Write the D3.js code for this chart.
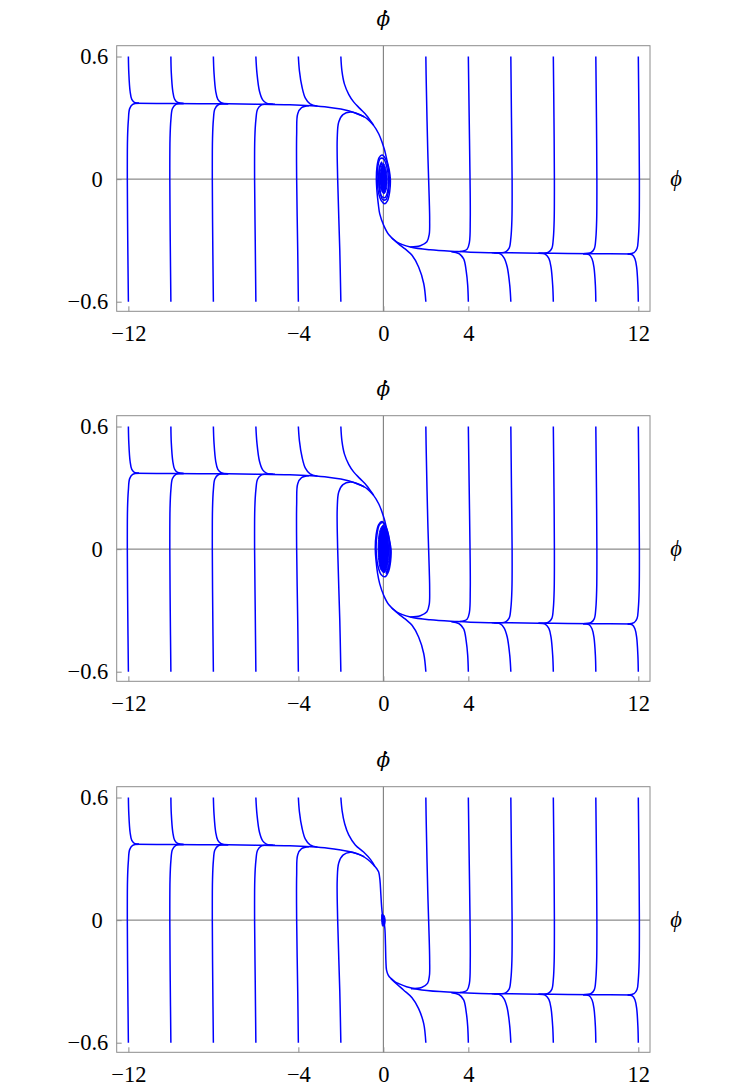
<!DOCTYPE html>
<html><head><meta charset="utf-8">
<script src="https://cdn.jsdelivr.net/npm/d3@7"></script>
<style>body{margin:0;background:#fff}</style>
</head><body>
<svg id="c" width="748" height="1087"></svg>
<script>
// ---------- tick values / labels ----------
const xTickValues = [-12, -4, 0, 4, 12];
const xTickLabels = ["\u221212", "\u22124", "0", "4", "12"];
const yTickValues = [0.6, 0, -0.6];
const yTickLabels = ["0.6", "0", "\u22120.6"];
const yAxisTitle = "\u03D5\u0307";
const xAxisTitle = "\u03D5";

// ---------- trajectories [phi, phiDot] shared by all panels ----------
const topStartLeft = [
  [[-12,0.6],[-11.98,0.52],[-11.92,0.43],[-11.84,0.39],[-11.72,0.376],[-11.5,0.371]],
  [[-10,0.6],[-9.98,0.52],[-9.91,0.43],[-9.82,0.39],[-9.68,0.375],[-9.4,0.370]],
  [[-8,0.6],[-7.97,0.52],[-7.89,0.43],[-7.79,0.39],[-7.63,0.374],[-7.3,0.369]],
  [[-6,0.6],[-5.95,0.52],[-5.83,0.43],[-5.68,0.388],[-5.5,0.372],[-5.1,0.367]],
  [[-4,0.6],[-3.95,0.53],[-3.83,0.452],[-3.67,0.396],[-3.45,0.368],[-3.1,0.357]]
];
const bottomStartLeft = [
  [[-12,-0.6],[-12.03,-0.3],[-12.05,0],[-12.04,0.2],[-12.0,0.29],[-11.94,0.345],[-11.8,0.366],[-11.5,0.371]],
  [[-10,-0.6],[-10.03,-0.3],[-10.05,0],[-10.04,0.2],[-10.0,0.29],[-9.93,0.344],[-9.78,0.365],[-9.4,0.370]],
  [[-8,-0.6],[-8.03,-0.3],[-8.05,0],[-8.04,0.2],[-8.0,0.29],[-7.93,0.343],[-7.77,0.364],[-7.3,0.369]],
  [[-6,-0.6],[-6.03,-0.3],[-6.06,0],[-6.05,0.2],[-6.0,0.29],[-5.92,0.342],[-5.75,0.362],[-5.2,0.367]],
  [[-4,-0.6],[-4.03,-0.35],[-4.08,0],[-4.08,0.22],[-4.03,0.32],[-3.85,0.35],[-3.5,0.359]]
];
const topStartRight = [
  [[12,0.6],[12.03,0.3],[12.05,0],[12.04,-0.2],[12.0,-0.29],[11.94,-0.34],[11.8,-0.36],[11.5,-0.366]],
  [[10,0.6],[10.03,0.3],[10.05,0],[10.04,-0.2],[10.0,-0.29],[9.93,-0.34],[9.78,-0.359],[9.4,-0.365]],
  [[8,0.6],[8.03,0.3],[8.05,0],[8.04,-0.2],[8.0,-0.29],[7.93,-0.339],[7.77,-0.358],[7.3,-0.363]],
  [[6,0.6],[6.03,0.3],[6.06,0],[6.05,-0.2],[6.0,-0.29],[5.92,-0.338],[5.75,-0.356],[5.2,-0.361]],
  [[4,0.6],[4.04,0.3],[4.08,0],[4.09,-0.2],[4.05,-0.31],[3.94,-0.343],[3.6,-0.354]]
];
const bottomStartRight = [
  [[12,-0.6],[11.98,-0.52],[11.92,-0.43],[11.84,-0.39],[11.72,-0.371],[11.5,-0.366]],
  [[10,-0.6],[9.98,-0.52],[9.91,-0.43],[9.82,-0.39],[9.68,-0.37],[9.4,-0.365]],
  [[8,-0.6],[7.97,-0.52],[7.89,-0.43],[7.79,-0.388],[7.63,-0.368],[7.3,-0.363]],
  [[6,-0.6],[5.95,-0.52],[5.83,-0.43],[5.68,-0.385],[5.5,-0.366],[5.1,-0.361]],
  [[4,-0.6],[3.97,-0.52],[3.9,-0.45],[3.78,-0.39],[3.55,-0.364],[3.2,-0.355]]
];

// ---------- panel 1 (spiral) ----------
const upperBranch1 = [[-11.7,0.371],[-10,0.370],[-8,0.369],[-6,0.367],[-4.4,0.364],[-3.4,0.359],[-2.6,0.352],[-2.0,0.343],[-1.6,0.333],[-1.24,0.32],[-0.9,0.305],[-0.77,0.296],[-0.46,0.263],[-0.22,0.222],[-0.06,0.181],[0.06,0.141],[0.17,0.092],[0.28,0.043],[0.33,0.0],[0.3,-0.06],[0.2,-0.105],[0.06,-0.12],[-0.1,-0.105],[-0.24,-0.06],[-0.29,0.0],[-0.26,0.06],[-0.15,0.1],[0.0,0.1],[0.15,0.065],[0.24,0.0],[0.2,-0.06],[0.08,-0.09],[-0.07,-0.085],[-0.18,-0.04],[-0.2,0.01],[-0.15,0.06],[-0.05,0.08]];
const lowerBranch1 = [[11.7,-0.366],[10,-0.365],[8,-0.363],[6,-0.361],[4.56,-0.359],[3.47,-0.354],[2.21,-0.346],[1.27,-0.332],[0.64,-0.308],[0.25,-0.271],[0.02,-0.227],[-0.17,-0.17],[-0.24,-0.12],[-0.3,-0.06],[-0.33,0.0],[-0.3,0.06],[-0.2,0.105],[-0.06,0.118],[0.1,0.1],[0.24,0.05],[0.28,0.0],[0.24,-0.06],[0.12,-0.1],[-0.03,-0.1],[-0.17,-0.06],[-0.22,0.0],[-0.18,0.06],[-0.07,0.085]];
const blob1 = [[0.0,0.078],[0.13,0.045],[0.18,0.0],[0.14,-0.05],[0.03,-0.072],[-0.1,-0.055],[-0.17,0.0],[-0.12,0.05]];
const minus2Top1 = [[-2,0.6],[-1.95,0.53],[-1.83,0.465],[-1.63,0.415],[-1.4,0.378],[-1.1,0.345],[-0.8,0.313],[-0.6,0.285],[-0.46,0.264]];
const minus2Bottom1 = [[-2,-0.6],[-2.05,-0.35],[-2.15,0],[-2.17,0.2],[-2.1,0.28],[-1.9,0.316],[-1.55,0.328],[-1.24,0.321],[-0.9,0.305]];
const plus2Top1 = [[2,0.6],[2.02,0.47],[2.09,0.14],[2.16,-0.1],[2.18,-0.2],[2.16,-0.27],[2.05,-0.307],[1.74,-0.326],[1.27,-0.332]];
const plus2Bottom1 = [[2,-0.6],[1.9,-0.511],[1.66,-0.43],[1.35,-0.373],[1.04,-0.343],[0.7,-0.316],[0.4,-0.288]];

// ---------- panel 2 (larger spiral) ----------
const upperBranch2 = [[-11.7,0.371],[-10,0.370],[-8,0.369],[-6,0.367],[-4.4,0.364],[-3.4,0.359],[-2.6,0.352],[-2.0,0.343],[-1.6,0.333],[-1.24,0.32],[-0.9,0.305],[-0.77,0.296],[-0.46,0.263],[-0.22,0.222],[-0.06,0.181],[0.06,0.141],[0.17,0.092],[0.28,0.043],[0.36,0.0],[0.34,-0.06],[0.24,-0.11],[0.08,-0.135],[-0.1,-0.125],[-0.26,-0.08],[-0.34,0.0],[-0.3,0.07],[-0.18,0.12],[-0.02,0.13],[0.15,0.1],[0.28,0.04],[0.31,-0.02],[0.26,-0.08],[0.12,-0.12]];
const lowerBranch2 = [[11.7,-0.366],[10,-0.365],[8,-0.363],[6,-0.361],[4.56,-0.359],[3.47,-0.354],[2.21,-0.346],[1.27,-0.332],[0.64,-0.308],[0.25,-0.271],[0.02,-0.227],[-0.17,-0.17],[-0.27,-0.12],[-0.34,-0.06],[-0.38,0.0],[-0.34,0.07],[-0.22,0.12],[-0.06,0.135],[0.12,0.11],[0.28,0.05],[0.33,0.0],[0.29,-0.07],[0.16,-0.12]];
const blob2 = [[0.0,0.118],[0.16,0.092],[0.26,0.03],[0.26,-0.04],[0.17,-0.095],[0.03,-0.116],[-0.13,-0.098],[-0.23,-0.04],[-0.24,0.03],[-0.15,0.095]];

// ---------- panel 3 (node) ----------
const upperBranch3 = [[-11.7,0.371],[-10,0.370],[-8,0.369],[-6,0.367],[-4.4,0.364],[-3.4,0.359],[-2.6,0.352],[-2.0,0.343],[-1.5,0.333],[-1.08,0.319],[-0.75,0.298],[-0.46,0.27],[-0.3,0.25],[-0.22,0.235],[-0.16,0.196],[-0.12,0.13],[-0.08,0.065],[-0.03,0.015],[0,0]];
const lowerBranch3 = [[11.7,-0.366],[10,-0.365],[8,-0.363],[6,-0.361],[4.56,-0.359],[2.66,-0.35],[1.6,-0.338],[1.09,-0.326],[0.75,-0.312],[0.55,-0.302],[0.35,-0.285],[0.23,-0.269],[0.15,-0.245],[0.12,-0.2],[0.1,-0.12],[0.07,-0.04],[0.02,-0.005],[0,0]];
const node3 = [[-0.06,0.03],[0.05,0.02],[0.07,-0.02],[-0.03,-0.03]];
const minus2Top3 = [[-2,0.6],[-1.94,0.535],[-1.82,0.472],[-1.63,0.417],[-1.32,0.368],[-0.93,0.333],[-0.6,0.296],[-0.4,0.262]];
const minus2Bottom3 = [[-2,-0.6],[-2.05,-0.35],[-2.15,0],[-2.17,0.2],[-2.1,0.28],[-1.9,0.318],[-1.55,0.332],[-1.2,0.323],[-0.9,0.31]];
const plus2Top3 = [[2,0.6],[2.02,0.47],[2.09,0.14],[2.16,-0.1],[2.18,-0.2],[2.17,-0.27],[2.08,-0.31],[1.8,-0.33],[1.3,-0.336]];
const plus2Bottom3 = [[2,-0.6],[1.9,-0.507],[1.66,-0.433],[1.35,-0.38],[0.96,-0.343],[0.6,-0.31],[0.35,-0.285]];

const farLines = [...topStartLeft, ...bottomStartLeft, ...topStartRight, ...bottomStartRight];
const panelData = [
  {lines: [...farLines, upperBranch1, lowerBranch1, minus2Top1, minus2Bottom1, plus2Top1, plus2Bottom1], blobs: [blob1]},
  {lines: [...farLines, upperBranch2, lowerBranch2, minus2Top1, minus2Bottom1, plus2Top1, plus2Bottom1], blobs: [blob2]},
  {lines: [...farLines, upperBranch3, lowerBranch3, minus2Top3, minus2Bottom3, plus2Top3, plus2Bottom3], blobs: [node3]}
];

// ---------- drawing ----------
const svg = d3.select("#c");
svg.append("rect").attr("width", 748).attr("height", 1087).attr("fill", "#fff");
const FONT = "'Liberation Serif','Times New Roman',serif";
const FS = 22.5;
const panelOffsets = [0, 370, 741];
const xDom = [-12.55, 12.55], yDom = [-0.647, 0.653];
const L = 116.7, R = 650, T = 45.7, B = 311.3;

panelData.forEach((p, i) => {
  const dy = panelOffsets[i];
  const x = d3.scaleLinear().domain(xDom).range([L, R]);
  const y = d3.scaleLinear().domain(yDom).range([B + dy, T + dy]);
  const g = svg.append("g");

  // axes through origin
  g.append("line").attr("x1", x(xDom[0])).attr("x2", x(xDom[1])).attr("y1", y(0)).attr("y2", y(0))
    .attr("stroke", "#6f6f6f").attr("stroke-width", 1);
  g.append("line").attr("x1", x(0)).attr("x2", x(0)).attr("y1", y(yDom[0])).attr("y2", y(yDom[1]))
    .attr("stroke", "#6f6f6f").attr("stroke-width", 1);

  // trajectories
  const line = d3.line().x(d => x(d[0])).y(d => y(d[1])).curve(d3.curveCatmullRom.alpha(0.5));
  g.selectAll("path.traj").data(p.lines).join("path").attr("class", "traj")
    .attr("d", line).attr("fill", "none").attr("stroke", "#0000ff").attr("stroke-width", 1.5);
  const closed = d3.line().x(d => x(d[0])).y(d => y(d[1])).curve(d3.curveCatmullRomClosed.alpha(0.5));
  g.selectAll("path.blob").data(p.blobs).join("path").attr("class", "blob")
    .attr("d", closed).attr("fill", "#0000ff").attr("stroke", "#0000ff").attr("stroke-width", 1);

  // frame
  g.append("rect").attr("x", L).attr("y", T + dy).attr("width", R - L).attr("height", B - T)
    .attr("fill", "none").attr("stroke", "#8c8c8c").attr("stroke-width", 1);

  // axes ticks + labels
  const ya = g.append("g").attr("transform", `translate(${L},0)`)
    .call(d3.axisLeft(y).tickValues(yTickValues).tickSize(-5).tickPadding(8.4)
      .tickFormat((d, k) => yTickLabels[k]));
  ya.select(".domain").remove();
  ya.selectAll("line").attr("stroke", "#8c8c8c");
  ya.selectAll("text").attr("font-family", FONT).attr("font-size", FS).attr("fill", "#000")
    .attr("x", d => d === 0 ? -14 : -8.4);

  const xa = g.append("g").attr("transform", `translate(0,${B + dy})`)
    .call(d3.axisBottom(x).tickValues(xTickValues).tickSize(-5).tickPadding(0)
      .tickFormat((d, k) => xTickLabels[k]));
  xa.select(".domain").remove();
  xa.selectAll("line").attr("stroke", "#8c8c8c");
  xa.selectAll("text").attr("font-family", FONT).attr("font-size", FS).attr("fill", "#000")
    .attr("y", 22).attr("dy", null).attr("dominant-baseline", "central");

  // axis titles
  g.append("text").attr("x", x(0)).attr("y", 25.5 + dy).attr("text-anchor", "middle")
    .attr("font-family", "'DejaVu Serif',serif").attr("font-style", "italic")
    .attr("font-size", 20).text(yAxisTitle);
  g.append("text").attr("x", 676).attr("y", 186 + dy).attr("text-anchor", "middle")
    .attr("font-family", FONT).attr("font-style", "italic").attr("font-size", FS).text(xAxisTitle);
});
</script>
</body></html>
